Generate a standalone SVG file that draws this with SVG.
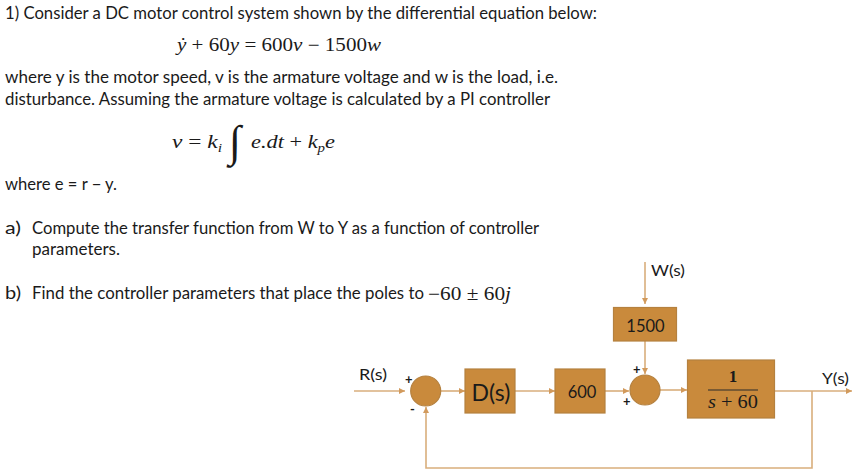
<svg xmlns="http://www.w3.org/2000/svg" width="856" height="473" viewBox="0 0 856 473">
<style>
text{font-family:Lato,"Liberation Sans",sans-serif;fill:#1a1a1a}
.t{font-size:16.5px}
.m{font-family:"Liberation Serif",serif;font-size:18px}
.i{font-style:italic}
.n{font-style:normal}
.s{font-size:12px}
.big{font-size:44px}
.l{font-size:16px}
.p{font-size:13px;font-weight:700}
.b{fill:#c98a3c;stroke:#b5813f;stroke-width:1.2}
.c{fill:none;stroke:#d9ae7c;stroke-width:1.6}
.a{fill:#d29a5c}
</style>
<defs><marker id="ah" markerWidth="8" markerHeight="8" refX="6" refY="3" orient="auto" markerUnits="userSpaceOnUse"><path d="M0,0L6,3L0,6Z" class="a"/></marker></defs>
<rect width="856" height="473" fill="#fff"/>
<g id="problem-text">
<text class="t" x="5" y="19" textLength="592" lengthAdjust="spacingAndGlyphs">1) Consider a DC motor control system shown by the differential equation below:</text>
<text class="m i" x="177" y="51" textLength="204" lengthAdjust="spacingAndGlyphs"><tspan>ẏ</tspan><tspan class="n"> + 60</tspan><tspan>y</tspan><tspan class="n"> = 600</tspan><tspan>v</tspan><tspan class="n"> − 1500</tspan><tspan>w</tspan></text>
<text class="t" x="5" y="83" textLength="553" lengthAdjust="spacingAndGlyphs">where y is the motor speed, v is the armature voltage and w is the load, i.e.</text>
<text class="t" x="5" y="105" textLength="545" lengthAdjust="spacingAndGlyphs">disturbance. Assuming the armature voltage is calculated by a PI controller</text>
<text class="m i" x="172" y="148" textLength="50" lengthAdjust="spacingAndGlyphs">v <tspan class="n">=</tspan> k<tspan class="s" dy="4">i</tspan></text>
<text class="m i big" x="229" y="156">∫</text>
<text class="m i" x="251" y="148" textLength="84" lengthAdjust="spacingAndGlyphs">e.dt <tspan class="n">+</tspan> k<tspan class="s" dy="4">p</tspan><tspan dy="-4">e</tspan></text>
<text class="t" x="5" y="190" textLength="112" lengthAdjust="spacingAndGlyphs">where e = r − y.</text>
<text class="t" x="5" y="234" textLength="16" lengthAdjust="spacingAndGlyphs">a)</text>
<text class="t" x="32" y="234" textLength="507" lengthAdjust="spacingAndGlyphs">Compute the transfer function from W to Y as a function of controller</text>
<text class="t" x="32" y="255" textLength="88" lengthAdjust="spacingAndGlyphs">parameters.</text>
<text class="t" x="5" y="299" textLength="16" lengthAdjust="spacingAndGlyphs">b)</text>
<text class="t" x="32" y="299" textLength="392" lengthAdjust="spacingAndGlyphs">Find the controller parameters that place the poles to</text>
<text class="m" x="428" y="300" textLength="83" lengthAdjust="spacingAndGlyphs">−60 ± 60<tspan class="i">j</tspan></text>
</g>
<g id="connectors">
<path class="c" marker-end="url(#ah)" d="M354,391H405"/>
<path class="c" marker-end="url(#ah)" d="M441,391H465"/>
<path class="c" marker-end="url(#ah)" d="M515,391H555"/>
<path class="c" marker-end="url(#ah)" d="M605,391H629"/>
<path class="c" marker-end="url(#ah)" d="M660,390H687"/>
<path class="c" marker-end="url(#ah)" d="M774,391H852"/>
<path class="c" marker-end="url(#ah)" d="M645,262V304"/>
<path class="c" marker-end="url(#ah)" d="M645,341V374"/>
<path class="c" marker-end="url(#ah)" d="M812,391V468H426V407"/>
</g>
<g id="sum1"><circle class="b" cx="425.7" cy="391" r="15"/><text class="p" x="405" y="384">+</text><text class="p" x="410" y="414">-</text></g>
<g id="ds"><rect class="b" x="465" y="369" width="50" height="44"/><text x="491" y="401" style="font-size:23px" text-anchor="middle">D(s)</text></g>
<g id="g600"><rect class="b" x="555" y="369" width="50" height="44"/><text x="582" y="398" style="font-size:16.5px" text-anchor="middle">600</text></g>
<g id="g1500"><rect class="b" x="613.5" y="307.5" width="63" height="33.5"/><text x="645.5" y="332" style="font-size:16.5px" text-anchor="middle">1500</text></g>
<g id="sum2"><circle class="b" cx="645" cy="390" r="15"/><text class="p" x="633" y="374">+</text><text class="p" x="623" y="406">+</text></g>
<g id="plant"><rect class="b" x="687.5" y="360" width="87" height="58"/><text class="m" x="733" y="382" text-anchor="middle" style="font-size:17px;font-weight:700">1</text><path d="M708,390H758" stroke="#2a2a2a" stroke-width="1.2"/><text class="m" x="708" y="408" textLength="50" lengthAdjust="spacingAndGlyphs"><tspan class="i">s</tspan> + 60</text></g>
<g id="labels">
<text class="l" x="359" y="380" textLength="28" lengthAdjust="spacingAndGlyphs">R(s)</text>
<text class="l" x="651" y="276" textLength="34" lengthAdjust="spacingAndGlyphs">W(s)</text>
<text class="l" x="822" y="384" textLength="27" lengthAdjust="spacingAndGlyphs">Y(s)</text>
</g>
</svg>
